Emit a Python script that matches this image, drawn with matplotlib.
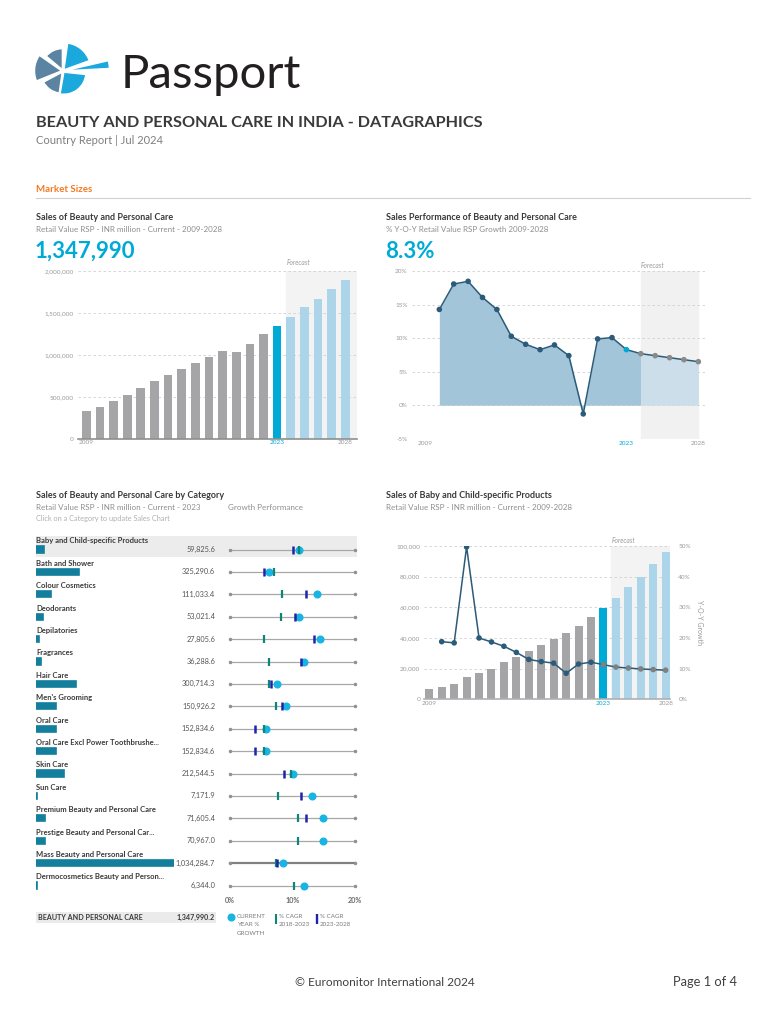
import matplotlib
matplotlib.use('Agg')
import matplotlib.pyplot as plt
from matplotlib.patches import Wedge, Rectangle
import numpy as np

plt.rcParams['font.family'] = ['Lato', 'DejaVu Sans']

W, H = 768, 1024

years = list(range(2009, 2029))
bpc_sales = [330000, 375000, 446000, 522000, 600000, 693000, 761000, 829000, 900000, 980000,
             1048000, 1036000, 1135000, 1251000, 1347990, 1454000, 1570000, 1669000, 1789000, 1896000]
growth_years = list(range(2010, 2029))
bpc_growth = [14.3, 18.1, 18.5, 16.1, 14.3, 10.3, 9.1, 8.3, 9.0, 7.4,
              -1.3, 9.9, 10.1, 8.3, 7.7, 7.4, 7.1, 6.8, 6.5]

baby_sales = [6500, 8000, 10000, 14300, 17200, 20000, 24100, 27600, 31500, 35200,
              39600, 43300, 47600, 53900, 59825.6, 66300, 73300, 80000, 88000, 96100]
baby_growth = [18.8, 18.4, 49.7, 20.0, 18.7, 17.3, 15.3, 13.0, 12.3, 11.8,
               8.5, 11.5, 12.1, 11.3, 10.5, 10.2, 9.9, 9.7, 9.5]

categories = ['Baby and Child-specific Products', 'Bath and Shower', 'Colour Cosmetics', 'Deodorants',
              'Depilatories', 'Fragrances', 'Hair Care', "Men's Grooming", 'Oral Care',
              'Oral Care Excl Power Toothbrushe...', 'Skin Care', 'Sun Care',
              'Premium Beauty and Personal Care', 'Prestige Beauty and Personal Car...',
              'Mass Beauty and Personal Care', 'Dermocosmetics Beauty and Person...']
cat_sales = [59825.6, 325290.6, 111033.4, 53021.4, 27805.6, 36288.6, 300714.3, 150926.2, 152834.6,
             152834.6, 212544.5, 7171.9, 71605.4, 70967.0, 1034284.7, 6344.0]
cur_growth = [11.1, 6.3, 13.9, 11.0, 14.4, 11.8, 7.5, 8.9, 5.8, 5.8, 10.1, 13.1, 14.8, 14.8, 8.4, 11.9]
cagr_18_23 = [11.0, 7.0, 8.3, 8.2, 5.4, 6.3, 6.2, 7.4, 5.5, 5.5, 9.8, 7.6, 10.8, 10.8, 7.4, 10.2]
cagr_23_28 = [10.1, 5.4, 12.1, 10.4, 13.4, 11.4, 6.6, 8.3, 4.05, 4.05, 8.6, 11.4, 12.2, np.nan, 7.5, np.nan]
total_sales = 1347990.2

# colours
C_GREY_BAR = '#a5a5a7'
C_CYAN = '#00aad6'
C_FCST = '#acd5ea'
C_LINE = '#2b5b79'
C_TEXT = '#3a3a3a'
C_SUB = '#8e8e8e'
C_TICK = '#9a9a9a'
C_CATBAR = '#137f9c'
C_TEAL = '#0d8577'
C_NAVY = '#1f23a8'
C_DOT = '#19b4e2'

fig = plt.figure(figsize=(W / 100, H / 100), dpi=100)
fig.patch.set_facecolor('white')


def px_axes(x0, y0, x1, y1):
    return fig.add_axes([x0 / W, 1 - y1 / H, (x1 - x0) / W, (y1 - y0) / H])


def ftext(x, y, s, **kw):
    kw.setdefault('va', 'center')
    return fig.text(x / W, 1 - y / H, s, **kw)


def style_chart(ax):
    for s in ['top', 'right', 'left']:
        ax.spines[s].set_visible(False)
    ax.tick_params(length=0, labelsize=4.6, labelcolor=C_TICK, pad=3)
    ax.grid(axis='y', color='#d0d0d0', ls=(0, (3, 3)), lw=0.6)
    ax.set_axisbelow(True)


# ---- logo
axl = px_axes(30, 38, 115, 103)
axl.set_xlim(0, 85)
axl.set_ylim(0, 65)
axl.set_aspect('equal')
axl.axis('off')
cx, cy = 33, 32
pieces = [(20, 82, 27, '#1ba8dd'), (3, 13, 45, '#1ba8dd'), (-100, -6, 22, '#1ba8dd'),
          (90, 140, 21, '#5b84a2'), (145, 202, 27, '#5b84a2'), (208, 262, 21, '#5b84a2')]
for t1, t2, r, col in pieces:
    mid = np.radians((t1 + t2) / 2)
    axl.add_patch(Wedge((cx + 1.5 * np.cos(mid), cy + 1.5 * np.sin(mid)), r, t1, t2,
                        facecolor=col, edgecolor='white', lw=1.0))

ftext(121, 88, 'Passport', fontsize=34, color='#231f20', va='baseline')

# ---- header
ftext(36, 123, 'BEAUTY AND PERSONAL CARE IN INDIA - DATAGRAPHICS', fontsize=11.7, fontweight='bold', color=C_TEXT)
ftext(36, 140, 'Country Report | Jul 2024', fontsize=8.0, color='#7f7f7f')
ftext(36, 190, 'Market Sizes', fontsize=7, fontweight='bold', color='#f47b20')
fig.add_artist(plt.Line2D([36 / W, 750 / W], [1 - 198 / H, 1 - 198 / H], color='#d0d0d0', lw=0.8))

# ---- panel 1: sales bars
ftext(36, 217, 'Sales of Beauty and Personal Care', fontsize=6.5, fontweight='bold', color=C_TEXT)
ftext(36, 229, 'Retail Value RSP - INR million - Current - 2009-2028', fontsize=5.8, color=C_SUB)
ftext(35, 251, '{:,.0f}'.format(bpc_sales[14]), fontsize=16, fontweight='bold', color=C_CYAN)

ax1 = px_axes(78, 271.3, 357, 438.7)
style_chart(ax1)
cols = [C_GREY_BAR if y < 2023 else (C_CYAN if y == 2023 else C_FCST) for y in years]
ax1.bar(years, bpc_sales, width=0.64, color=cols, zorder=2)
ax1.set_xlim(2008.39, 2028.86)
ax1.set_ylim(0, 2000000)
ax1.axvspan(2023.63, 2028.86, ymax=1, color='#f3f3f3', zorder=0)
ax1.text(2023.7, 2060000, 'Forecast', fontsize=4.8, style='italic', color=C_TICK, va='bottom')
ax1.set_yticks([0, 500000, 1000000, 1500000, 2000000])
ax1.set_yticklabels(['{:,}'.format(v) for v in [0, 500000, 1000000, 1500000, 2000000]])
ax1.set_xticks([2009, 2023, 2028])
ax1.set_xticklabels(['2009', '2023', '2028'])
ax1.get_xticklabels()[1].set_color(C_CYAN)
ax1.spines['bottom'].set_color('#8f8f8f')
ax1.spines['bottom'].set_linewidth(1.2)
ax1.tick_params(axis='x', pad=1)

# ---- panel 2: growth line
ftext(386, 217, 'Sales Performance of Beauty and Personal Care', fontsize=6.5, fontweight='bold', color=C_TEXT)
ftext(386, 229, '% Y-O-Y Retail Value RSP Growth 2009-2028', fontsize=5.8, color=C_SUB)
ftext(385, 251, '{:.1f}%'.format(bpc_growth[13]), fontsize=16, fontweight='bold', color=C_CYAN)

ax2 = px_axes(411.7, 271.3, 706.7, 438.7)
style_chart(ax2)
ax2.spines['bottom'].set_visible(False)
gy = np.array(growth_years)
gv = np.array(bpc_growth)
hist = gy <= 2024
fc = gy >= 2024
ax2.axvspan(2024, 2028, color='#f1f1f1', zorder=0)
ax2.fill_between(gy[hist], gv[hist], 0, color='#a3c5d9', lw=0, zorder=1)
ax2.fill_between(gy[fc], gv[fc], 0, color='#cbdee9', lw=0, zorder=1)
ax2.plot(gy, gv, color=C_LINE, lw=1.1, zorder=3)
mcol = [C_LINE if y < 2023 else (C_CYAN if y == 2023 else '#8a8a8a') for y in growth_years]
ax2.scatter(gy, gv, s=9, c=mcol, zorder=4)
ax2.set_xlim(2008.08, 2028.58)
ax2.set_ylim(-5, 20)
ax2.text(2024.0, 20.3, 'Forecast', fontsize=4.8, style='italic', color=C_TICK, va='bottom')
ax2.set_yticks([-5, 0, 5, 10, 15, 20])
ax2.set_yticklabels(['{}%'.format(v) for v in [-5, 0, 5, 10, 15, 20]])
ax2.set_xticks([2009, 2023, 2028])
ax2.set_xticklabels(['2009', '2023', '2028'])
ax2.get_xticklabels()[1].set_color(C_CYAN)
ax2.tick_params(axis='x', pad=2)

# ---- panel 3: category table
ftext(36, 496, 'Sales of Beauty and Personal Care by Category', fontsize=6.5, fontweight='bold', color=C_TEXT)
ftext(36, 508, 'Retail Value RSP - INR million - Current - 2023', fontsize=5.8, color=C_SUB)
ftext(228, 508, 'Growth Performance', fontsize=5.8, color=C_SUB)
ftext(36, 519, 'Click on a Category to update Sales Chart', fontsize=5.3, color='#b0b0b0')

row_h = 22.4
y_top, y_bot = 530, 905
ylo = (y_top - 549.5) / row_h
yhi = (y_bot - 549.5) / row_h
rows = np.arange(len(categories))

# row frame (text, highlight) in pixel offsets
axr = px_axes(35.7, y_top, 356.7, y_bot)
axr.set_xlim(0, 321)
axr.set_ylim(yhi, ylo)
axr.axis('off')
axr.add_patch(Rectangle((0, -0.62), 321, 0.97, color='#ececec', lw=0, zorder=0))
for i, (name, val) in enumerate(zip(categories, cat_sales)):
    axr.text(0.3, i - 0.38, name, fontsize=5.5, fontweight='bold', color=C_TEXT, va='center')
    axr.text(179.5, i, '{:,.1f}'.format(val), fontsize=5.3, color='#555555', va='center', ha='right')

axb = px_axes(35.7, y_top, 35.7 + 138, y_bot)
axb.set_xlim(0, max(cat_sales))
axb.set_ylim(yhi, ylo)
axb.axis('off')
axb.barh(rows, cat_sales, height=0.27, color=C_CATBAR, edgecolor=C_CATBAR, lw=1.2)

axg = px_axes(230, y_top, 355, y_bot)
axg.set_xlim(0, 20)
axg.set_ylim(yhi, ylo)
axg.axis('off')
for i in rows:
    lc, lw = ('#808080', 1.6) if categories[i].startswith('Mass') else ('#a8a8a8', 0.9)
    axg.plot([0, 20], [i, i], color=lc, lw=lw, zorder=1, clip_on=False)
    axg.plot([0, 20], [i, i], ls='none', marker='o', ms=1.5, color='#909090', zorder=1, clip_on=False)
axg.plot(cur_growth, rows, ls='none', marker='o', ms=4.8, color=C_DOT, zorder=3, clip_on=False)
axg.plot(cagr_18_23, rows, ls='none', marker='|', ms=5.5, mew=1.6, color=C_TEAL, zorder=4, clip_on=False)
axg.plot(cagr_23_28, rows, ls='none', marker='|', ms=5.5, mew=1.8, color=C_NAVY, zorder=5, clip_on=False)
for v in [0, 10, 20]:
    axg.text(v, 15.65, '{}%'.format(v), fontsize=5.2, fontweight='bold', color='#6a6a6a',
             ha='center', va='center', clip_on=False)

# total row
fig.add_artist(Rectangle((35.7 / W, 1 - 922.7 / H), (216 - 35.7) / W, 11 / H,
                         transform=fig.transFigure, color='#ebebeb', lw=0))
ftext(38, 917, 'BEAUTY AND PERSONAL CARE', fontsize=5.1, fontweight='bold', color=C_TEXT)
ftext(215, 917, '{:,.1f}'.format(total_sales), fontsize=5.1, fontweight='bold', color=C_TEXT, ha='right')

# legend
fig.add_artist(plt.Line2D([230.7 / W], [1 - 916.7 / H], marker='o', ms=4.8, color=C_DOT, ls='none'))
fig.add_artist(plt.Line2D([276 / W], [1 - 918.5 / H], marker='|', ms=7, mew=1.5, color=C_TEAL, ls='none'))
fig.add_artist(plt.Line2D([316.7 / W], [1 - 918.5 / H], marker='|', ms=7, mew=1.7, color=C_NAVY, ls='none'))
for j, line in enumerate(['CURRENT', 'YEAR %', 'GROWTH']):
    ftext(237, 916.7 + j * 8.3, line, fontsize=4.5, color='#7a7a7a')
for j, line in enumerate(['% CAGR', '2018-2023']):
    ftext(279, 916.7 + j * 8.3, line, fontsize=4.5, color='#7a7a7a')
for j, line in enumerate(['% CAGR', '2023-2028']):
    ftext(320, 916.7 + j * 8.3, line, fontsize=4.5, color='#7a7a7a')

# ---- panel 4: baby products
ftext(386, 496, 'Sales of Baby and Child-specific Products', fontsize=6.5, fontweight='bold', color=C_TEXT)
ftext(386, 508, 'Retail Value RSP - INR million - Current - 2009-2028', fontsize=5.8, color=C_SUB)

ax4 = px_axes(424.3, 546, 670, 699.3)
style_chart(ax4)
cols4 = [C_GREY_BAR if y < 2023 else (C_CYAN if y == 2023 else C_FCST) for y in years]
ax4.bar(years, baby_sales, width=0.64, color=cols4, zorder=2)
ax4.set_xlim(2008.6, 2028.35)
ax4.set_ylim(0, 100000)
ax4.axvspan(2023.6, 2028.35, color='#f3f3f3', zorder=0)
ax4.text(2023.7, 101500, 'Forecast', fontsize=4.8, style='italic', color=C_TICK, va='bottom')
ax4.set_yticks(range(0, 100001, 20000))
ax4.set_yticklabels(['{:,}'.format(v) for v in range(0, 100001, 20000)])
ax4.set_xticks([2009, 2023, 2028])
ax4.set_xticklabels(['2009', '2023', '2028'])
ax4.get_xticklabels()[1].set_color(C_CYAN)
ax4.spines['bottom'].set_color('#b0b0b0')
ax4.spines['bottom'].set_linewidth(1.2)
ax4.tick_params(axis='x', pad=1)

ax4r = ax4.twinx()
for s in ['top', 'right', 'left', 'bottom']:
    ax4r.spines[s].set_visible(False)
ax4r.set_ylim(0, 50)
ax4r.set_yticks(range(0, 51, 10))
ax4r.set_yticklabels(['{}%'.format(v) for v in range(0, 51, 10)])
ax4r.tick_params(length=0, labelsize=4.6, labelcolor=C_TICK, pad=6)
ax4r.set_ylabel('Y-O-Y Growth', rotation=270, fontsize=5, color=C_TICK, labelpad=9)
ax4r.plot(growth_years, baby_growth, color=C_LINE, lw=1.1, zorder=3)
mcol4 = [C_LINE if y < 2023 else '#808080' for y in growth_years]
ax4r.scatter(growth_years, baby_growth, s=9, c=mcol4, zorder=4)

# ---- footer
ftext(385, 982, '\u00a9 Euromonitor International 2024', fontsize=8.6, color='#404040', ha='center')
ftext(737, 982, 'Page 1 of 4', fontsize=9.3, color='#404040', ha='right')

fig.savefig('out.png', dpi=100)
